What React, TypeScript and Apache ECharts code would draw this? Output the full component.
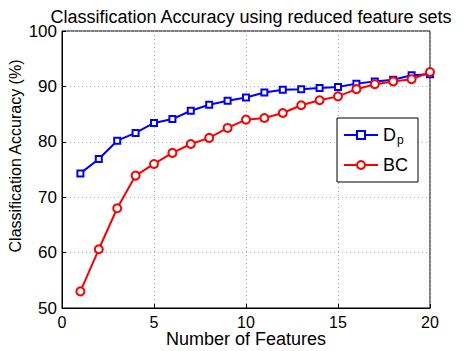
import React, { useEffect, useRef } from "react";
import * as echarts from "echarts";

const features = [1, 2, 3, 4, 5, 6, 7, 8, 9, 10, 11, 12, 13, 14, 15, 16, 17, 18, 19, 20];
const dpValues = [74.3, 76.9, 80.2, 81.6, 83.4, 84.1, 85.6, 86.7, 87.4, 88.0, 88.9, 89.4, 89.5, 89.7, 89.9, 90.5, 90.9, 91.2, 92.0, 92.2];
const bcValues = [53.0, 60.6, 68.0, 73.9, 76.0, 78.0, 79.6, 80.7, 82.5, 84.0, 84.3, 85.2, 86.6, 87.5, 88.2, 89.5, 90.4, 90.9, 91.3, 92.6];

const FONT = "Liberation Sans, Arial, sans-serif";

export default function App() {
  const ref = useRef<HTMLDivElement>(null);
  useEffect(() => {
    if (!ref.current) return;
    const chart = echarts.init(ref.current, undefined, { renderer: "svg" });
    const axisCommon = {
      axisLine: { show: true, lineStyle: { color: "#000", width: 1 } },
      axisTick: { show: true, inside: true, length: 4, lineStyle: { color: "#000" } },
      splitLine: { show: true, lineStyle: { color: "#b0b0b0", type: [1, 3], width: 1 } },
    };
    chart.setOption({
      animation: false,
      backgroundColor: "#fff",
      title: {
        text: "Classification Accuracy using reduced feature sets",
        left: 246,
        textAlign: "center",
        top: 3,
        textStyle: { color: "#000", fontSize: 18, fontWeight: "normal", fontFamily: FONT },
      },
      graphic: [
        {
          type: "text",
          x: 15,
          y: 156,
          rotation: Math.PI / 2,
          style: {
            text: "Classification Accuracy (%)",
            fill: "#000",
            fontSize: 16,
            fontFamily: FONT,
            align: "center",
            verticalAlign: "middle",
          },
        },
      ],
      grid: {
        left: 62,
        right: 44,
        top: 31,
        bottom: 43,
        containLabel: false,
        outerBoundsMode: "none",
        show: true,
        borderColor: "#000",
        borderWidth: 1,
      },
      legend: {
        left: 337,
        top: 118,
        orient: "vertical",
        backgroundColor: "#fff",
        borderColor: "#000",
        borderWidth: 1,
        borderRadius: 0,
        padding: [8, 10, 8, 6],
        itemWidth: 34,
        itemHeight: 10,
        itemGap: 10,
        data: ["Dp", "BC"],
        formatter: (name: string) => (name === "Dp" ? "D{sub|p}" : name),
        textStyle: {
          color: "#000",
          fontSize: 18,
          fontFamily: FONT,
          rich: {
            sub: { fontSize: 12, fontFamily: FONT, color: "#000", verticalAlign: "bottom", padding: [10, 0, 0, 1] },
          },
        },
      },
      xAxis: {
        type: "value",
        min: 0,
        max: 20,
        interval: 5,
        name: "Number of Features",
        nameLocation: "middle",
        nameGap: 31,
        nameMoveOverlap: false,
        nameTextStyle: { color: "#000", fontSize: 18, fontFamily: FONT, verticalAlign: "middle" },
        axisLabel: { color: "#000", fontSize: 16, fontFamily: FONT, margin: 6 },
        ...axisCommon,
      },
      yAxis: {
        type: "value",
        min: 50,
        max: 100,
        interval: 10,
        axisLabel: { color: "#000", fontSize: 17, fontFamily: FONT, margin: 5 },
        ...axisCommon,
      },
      series: [
        {
          name: "Dp",
          type: "line",
          data: features.map((f, i) => [f, dpValues[i]]),
          symbol: "emptyRect",
          symbolSize: 6,
          lineStyle: { color: "#0000ff", width: 2 },
          itemStyle: { color: "#0000ff", borderWidth: 2 },
        },
        {
          name: "BC",
          type: "line",
          data: features.map((f, i) => [f, bcValues[i]]),
          symbol: "emptyCircle",
          symbolSize: 8,
          lineStyle: { color: "#ff0000", width: 2 },
          itemStyle: { color: "#ff0000", borderWidth: 2 },
        },
      ],
    });
    return () => chart.dispose();
  }, []);
  return <div ref={ref} style={{ width: 474, height: 351, position: "absolute", left: 0, top: 0 }} />;
}
